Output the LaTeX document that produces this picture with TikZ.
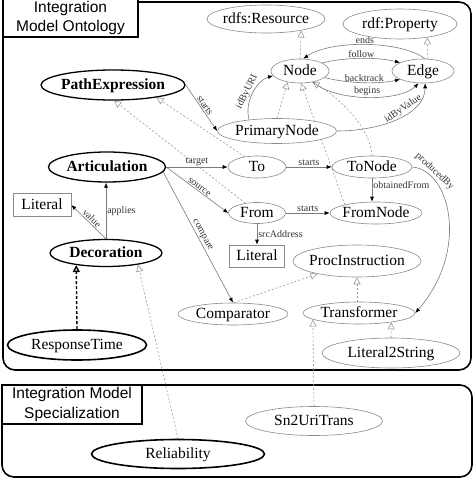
\documentclass[tikz,border=0pt]{standalone}
\usepackage{fontspec}
\setmainfont{Liberation Serif}
\newfontfamily\helv{Liberation Sans}
\usetikzlibrary{shapes.geometric,arrows.meta,backgrounds}
\definecolor{ngray}{HTML}{8A8A8A}
\definecolor{lgray}{HTML}{7A7A7A}
\definecolor{dgray}{HTML}{9A9A9A}
\newcommand\ctr[1]{\makebox[0pt]{#1}}
\pgfdeclarelayer{bg}
\pgfsetlayers{bg,main}
\tikzset{
 cls/.style={ellipse, draw=ngray, line width=0.6pt, fill=white, inner sep=0pt, text height=11pt, text depth=2pt, font=\fontsize{15.5}{17}\selectfont},
 bcls/.style={cls, draw=black, line width=1.3pt, font=\fontsize{15.5}{17}\selectfont\bfseries},
 tcls/.style={cls, draw=black, line width=1.6pt},
 lit/.style={rectangle, draw=ngray, line width=0.6pt, fill=white, inner sep=0pt, text height=11pt, text depth=2pt, font=\fontsize{15.5}{17}\selectfont},
 rel/.style={draw=lgray, line width=0.6pt, -{Latex[length=5pt,width=4pt,black]}},
 isa/.style={draw=dgray, line width=0.6pt, dash pattern=on 2pt off 2pt, -{Triangle[open,length=7pt,width=7pt,fill=white]}},
 bisa/.style={draw=black, line width=1.4pt, dash pattern=on 3pt off 2pt, -{Triangle[open,length=7pt,width=7pt,fill=white]}},
 elab/.style={font=\fontsize{10}{11}\selectfont, inner sep=1pt, text=black!80},
 panel/.style={draw=black, line width=1.6pt, rounded corners=12pt},
 plabel/.style={draw=black, line width=1.6pt, fill=white, font=\helv\fontsize{15.5}{19.5}\selectfont, align=center, inner sep=0pt},
}
\begin{document}
\begin{tikzpicture}[x=1pt,y=-1pt]
\useasboundingbox (0,0) rectangle (474,479);
% nodes
\node[cls, minimum width=118pt, minimum height=28pt] (res) at (266,19) {\ctr{rdfs:Resource}};
\node[cls, minimum width=114pt, minimum height=30pt] (prop) at (400,24) {\ctr{rdf:Property}};
\node[cls, minimum width=58pt, minimum height=24pt] (nd) at (300,71) {\ctr{Node}};
\node[cls, minimum width=62pt, minimum height=24pt] (ed) at (423,71) {\ctr{Edge}};
\node[bcls, minimum width=144pt, minimum height=30pt] (pe) at (113,85) {\ctr{PathExpression}};
\node[cls, minimum width=119pt, minimum height=25pt] (pn) at (277,131) {\ctr{PrimaryNode}};
\node[bcls, minimum width=117pt, minimum height=30pt] (art) at (107,167) {\ctr{Articulation}};
\node[cls, minimum width=58pt, minimum height=22pt] (to) at (257,167) {\ctr{To}};
\node[cls, minimum width=80pt, minimum height=22pt] (tn) at (372,167) {\ctr{ToNode}};
\node[lit, minimum width=58pt, minimum height=23pt] (lit1) at (42,205) {\ctr{Literal}};
\node[cls, minimum width=57pt, minimum height=21pt] (fr) at (257,213) {\ctr{From}};
\node[cls, minimum width=92pt, minimum height=22pt] (fn) at (376,213) {\ctr{FromNode}};
\node[lit, minimum width=55pt, minimum height=22pt] (lit2) at (257,256) {\ctr{Literal}};
\node[bcls, minimum width=112pt, minimum height=27pt] (dec) at (106,253) {\ctr{Decoration}};
\node[cls, minimum width=128pt, minimum height=32pt] (pi) at (357,261) {\ctr{ProcInstruction}};
\node[cls, minimum width=110pt, minimum height=22pt] (cmp) at (233,314) {\ctr{Comparator}};
\node[cls, minimum width=112pt, minimum height=22pt] (tr) at (359,313) {\ctr{Transformer}};
\node[cls, minimum width=138pt, minimum height=30pt] (l2s) at (391,353) {\ctr{Literal2String}};
\node[tcls, minimum width=139pt, minimum height=30pt] (rt) at (77,345) {\ctr{ResponseTime}};
\node[cls, minimum width=137pt, minimum height=29pt] (sn) at (314,421) {\ctr{Sn2UriTrans}};
\node[tcls, minimum width=173pt, minimum height=29pt] (rel) at (178,454) {\ctr{Reliability}};
% panel labels
\node[plabel, minimum width=135pt, minimum height=38pt] (t1) at (70.5,18) {Integration\\Model Ontology};
\node[plabel, minimum width=140pt, minimum height=39pt] (t2) at (72,404.5) {Integration Model\\Specialization};
\begin{pgfonlayer}{bg}
\draw[panel] (3,2) rectangle (471,370);
\draw[panel] (2,385) rectangle (472,477);
% inheritance
\draw[isa] (nd.north) -- (res.-18.5);
\draw[isa] (ed.71) -- (prop.-26);
\draw[isa] (pn.north) -- (nd.222);
\draw[isa] (fn.165) -- (nd.-85);
\draw[isa] (tn.north) .. controls (370,125) and (335,95) .. (nd.-42);
\draw[isa] (to.140) -- (pe.-16);
\draw[isa] (fr.140) -- (pe.-86);
\draw[isa] (cmp.85) -- (pi.198);
\draw[isa] (pi.south |- tr.north) -- (pi.south);
\draw[isa] (l2s.north) -- (tr.-16);
\draw[isa] (sn.north) -- (tr.188);
\draw[isa] (rel.north) -- (dec.-20);
\draw[bisa] (rt.north) -- (dec.202);
% relations
\draw[rel] (pe.east) -- node[elab, sloped, above] {starts} (pn.west);
\draw[rel] (art.east) -- node[elab, above] {target} (to.west);
\draw[rel] (art.east) -- node[elab, sloped, above] {source} (fr.west);
\draw[rel] (art.-5) -- node[elab, sloped, above] {compare} (cmp.north);
\draw[rel] (dec.north) -- node[elab, right] {applies} (dec.north |- art.south);
\draw[rel] (dec.north) -- node[elab, sloped, above] {value} (lit1.east);
\draw[rel] (to.east) -- node[elab, above] {starts} (tn.west);
\draw[rel] (fr.east) -- node[elab, above] {starts} (fn.west);
\draw[rel] (tn.south) -- node[elab, right, pos=0.3] {obtainedFrom} (tn.south |- fn.north);
\draw[rel] (fr.south) -- node[elab, right] {srcAddress} (lit2.north);
\draw[rel] (tn.east) .. controls (450,170) and (470,250) .. node[elab, sloped, above, pos=0.18] {producedBy} (tr.east);
\draw[rel] (nd.20) .. controls (345,57) and (378,57) .. node[elab, above] {follow} (ed.160);
\draw[rel] (nd.-15) .. controls (350,84) and (380,84) .. node[elab, above] {backtrack} (ed.-160);
\draw[rel] (ed.80) .. controls (400,40) and (330,40) .. node[elab, above] {ends} (nd.75);
\draw[rel] (nd.-40) .. controls (335,102) and (400,102) .. node[elab, above] {begins} (ed.-110);
\draw[rel] (pn.east) .. controls (380,131) and (425,115) .. node[elab, sloped, above, pos=0.6] {idByValue} (ed.-80);
\draw[rel] (pn.158) .. controls (244,100) and (258,80) .. node[elab, sloped, above, pos=0.45] {idByURI} (nd.190);
\end{pgfonlayer}
\end{tikzpicture}
\end{document}
